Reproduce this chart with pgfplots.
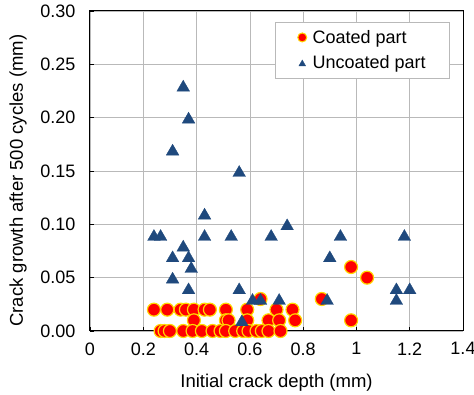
\documentclass[border=0pt]{standalone}
\usepackage{fontspec}
\setmainfont{Liberation Sans}
\usepackage{pgfplots}
\pgfplotsset{compat=1.18}
\definecolor{tri}{RGB}{31,73,125}
\definecolor{gridc}{RGB}{185,185,185}
\definecolor{gold}{RGB}{255,215,0}
\begin{document}
\begin{tikzpicture}
\path[use as bounding box] (-90pt,-64pt) rectangle (384pt,331pt);
\begin{axis}[
  at={(0,0)}, anchor=south west,
  scale only axis, width=373pt, height=320pt,
  xmin=0, xmax=1.4, ymin=0, ymax=0.3,
  xtick={0,0.2,0.4,0.6,0.8,1,1.2,1.4},
  ytick={0,0.05,0.1,0.15,0.2,0.25,0.3},
  /pgf/number format/assume math mode=true,
  yticklabel style={/pgf/number format/fixed, /pgf/number format/fixed zerofill, /pgf/number format/precision=2, xshift=-11pt},
  xticklabel style={/pgf/number format/fixed, /pgf/number format/precision=1, yshift=-8pt},
  tick label style={font=\fontsize{18}{20}\selectfont},
  label style={font=\fontsize{18.5}{20}\selectfont},
  tick align=inside, tick pos=left, major tick length=4pt,
  tick style={black, line width=0.8pt},
  grid=major, major grid style={gridc, line width=0.6pt},
  axis line style={black, line width=1pt},
  xlabel={Initial crack depth (mm)},
  ylabel={Crack growth after 500 cycles (mm)},
  xlabel style={at={(axis description cs:0.5,-0.1625)}, anchor=center},
  ylabel style={at={(axis description cs:-0.193,0.47)}, anchor=center},
  legend style={at={(axis description cs:0.965,0.966)}, anchor=north east,
    draw=gridc, line width=0.6pt, fill=white,
    font=\fontsize{18}{20}\selectfont, inner xsep=22pt, inner ysep=6pt,
    row sep=7pt},
  legend cell align=left,
  legend image code/.code={\draw[#1] plot coordinates {(0pt,0pt)}; \path (8pt,0pt);},
]
\addplot[only marks, mark=*, mark size=6.5pt,
  mark options={fill=red, draw=gold, line width=1.2pt},
  legend image post style={mark size=4.5pt, mark options={fill=red, draw=gold, line width=1pt}}]
coordinates {
(0.24,0.02) (0.29,0.02) (0.34,0.02) (0.36,0.02) (0.39,0.02) (0.43,0.02)
(0.45,0.02) (0.51,0.02) (0.59,0.02) (0.70,0.02) (0.76,0.02)
(0.39,0.01) (0.51,0.01) (0.52,0.01) (0.59,0.01) (0.67,0.01) (0.71,0.01)
(0.77,0.01) (0.98,0.01)
(0.265,0) (0.28,0) (0.30,0) (0.35,0) (0.385,0) (0.42,0) (0.46,0) (0.49,0) (0.51,0)
(0.545,0) (0.575,0) (0.595,0) (0.625,0) (0.645,0) (0.67,0) (0.715,0)
(0.64,0.03) (0.87,0.03) (1.04,0.05) (0.98,0.06)
};
\addlegendentry{Coated part}
\addplot[only marks, mark=triangle*, mark size=7.3pt,
  mark options={fill=tri, draw=tri, line width=0.3pt, yshift=-1.8pt},
  legend image post style={mark size=4pt, mark options={fill=tri, draw=tri, line width=0.3pt, yshift=-1pt}}]
coordinates {
(0.35,0.23) (0.37,0.20) (0.31,0.17) (0.56,0.15) (0.43,0.11)
(0.24,0.09) (0.265,0.09) (0.43,0.09) (0.53,0.09) (0.68,0.09) (0.74,0.10)
(0.94,0.09) (1.18,0.09) (0.35,0.08) (0.31,0.07) (0.37,0.07) (0.38,0.06)
(0.31,0.05) (0.37,0.04) (0.56,0.04) (0.90,0.07) (1.15,0.04) (1.20,0.04)
(1.15,0.03) (0.89,0.03) (0.71,0.03) (0.61,0.03) (0.64,0.03) (0.57,0.01)
};
\addlegendentry{Uncoated part}
\end{axis}
\end{tikzpicture}
\end{document}
